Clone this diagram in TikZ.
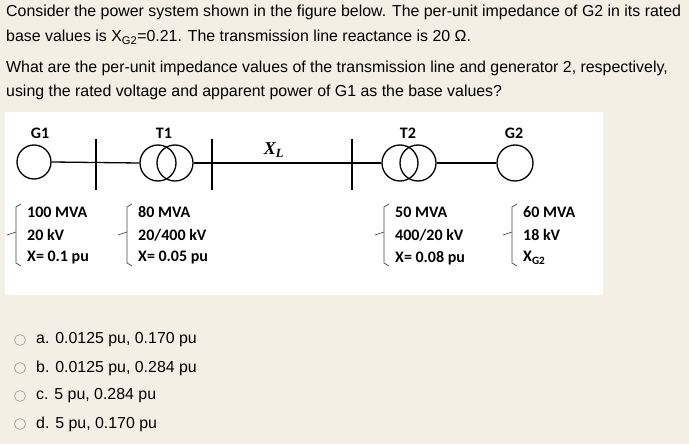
\documentclass[tikz,border=0pt]{standalone}
\usepackage{fontspec}
\setmainfont{Liberation Sans}
\newfontfamily\carfont{Carlito}
\newfontfamily\serfont{Liberation Serif}
\begin{document}
\begin{tikzpicture}[x=1pt,y=-1pt,
  wire/.style={line width=1.3pt},
  lbl/.style={font=\carfont\bfseries\fontsize{16}{18}\selectfont,anchor=west,inner sep=0pt},
  qtext/.style={font=\fontsize{15.9}{18}\selectfont,anchor=west,inner sep=0pt},
  opt/.style={draw=gray!70,line width=0.8pt,circle,minimum size=11pt,inner sep=0pt}]
\fill[fill={rgb,255:red,243;green,239;blue,229}] (0,0) rectangle (689,444);
\useasboundingbox (0,0) rectangle (689,444);
\fill[white] (5,112) rectangle (603,295);
\node[qtext] (q1) at (6,12) {Consider the power system shown in the figure below. The per-unit impedance of G2 in its rated};
\node[qtext] (q2) at (6,37) {base values is X\textsubscript{G2}=0.21. The transmission line reactance is 20 Ω.};
\node[qtext] (q3) at (6,68) {What are the per-unit impedance values of the transmission line and generator 2, respectively,};
\node[qtext] (q4) at (6,92) {using the rated voltage and apparent power of G1 as the base values?};
% components
\node[wire,draw,circle,minimum size=34pt,inner sep=0pt] (g1) at (34,162) {};
\node[wire,draw,circle,minimum size=36pt,inner sep=0pt] (t1a) at (158,163) {};
\node[wire,draw,circle,minimum size=36pt,inner sep=0pt] (t1b) at (175,163) {};
\node[wire,draw,circle,minimum size=36pt,inner sep=0pt] (t2a) at (400,163) {};
\node[wire,draw,circle,minimum size=36pt,inner sep=0pt] (t2b) at (418,163) {};
\node[wire,draw,circle,minimum size=36pt,inner sep=0pt] (g2) at (515,163) {};
\coordinate (b1t) at (96,139); \coordinate (b1b) at (96,190);
\coordinate (b2t) at (212,139); \coordinate (b2b) at (212,190);
\coordinate (b3t) at (352,139); \coordinate (b3b) at (352,190);
\draw[wire] (b1t) -- (b1b); \draw[wire] (b2t) -- (b2b); \draw[wire] (b3t) -- (b3b);
\draw[wire] (g1.east) -- (t1a.west);
\draw[wire] (t1b.east) -- (t2a.west);
\draw[wire] (t2b.east) -- (g2.west);
\node[lbl,anchor=center] (lg1) at (40,133) {G1};
\node[lbl,anchor=center] (lt1) at (164,133) {T1};
\node[lbl,anchor=center] (lt2) at (408,133) {T2};
\node[lbl,anchor=center] (lg2) at (514,133) {G2};
\node[font=\serfont\bfseries\itshape\fontsize{18}{20}\selectfont,inner sep=0pt] (xl) at (274,150) {X\textsubscript{L}};
% data blocks
\foreach \x/\n/\a/\b/\c in {16/d1/{100 MVA}/{20 kV}/{X= 0.1 pu}, 127/d2/{80 MVA}/{20/400 kV}/{X= 0.05 pu}, 384/d3/{50 MVA}/{400/20 kV}/{X= 0.08 pu}, 512/d4/{60 MVA}/{18 kV}/{X\textsubscript{G2}}}{
  \draw[gray!60!black,line width=0.7pt] (\x+5,204) -- (\x,207) -- (\x,263) -- (\x+5,266);
  \draw[gray!60!black,line width=0.7pt] (\x-9,235) -- (\x,232);
  \node[lbl] (\n a) at (\x+11,212) {\a};
  \node[lbl] (\n b) at (\x+11,235) {\b};
  \node[lbl] (\n c) at (\x+11,258) {\c};
}
% options
\foreach \y/\n/\t in {340/oa/{a. 0.0125 pu,\ 0.170 pu}, 368/ob/{b. 0.0125 pu,\ 0.284 pu}, 396/oc/{c. 5 pu,\ 0.284 pu}, 424/od/{d. 5 pu,\ 0.170 pu}}{
  \node[opt] (\n c) at (20,\y) {};
  \node[qtext] (\n t) at (36,\y) {\t};
}
\end{tikzpicture}
\end{document}
